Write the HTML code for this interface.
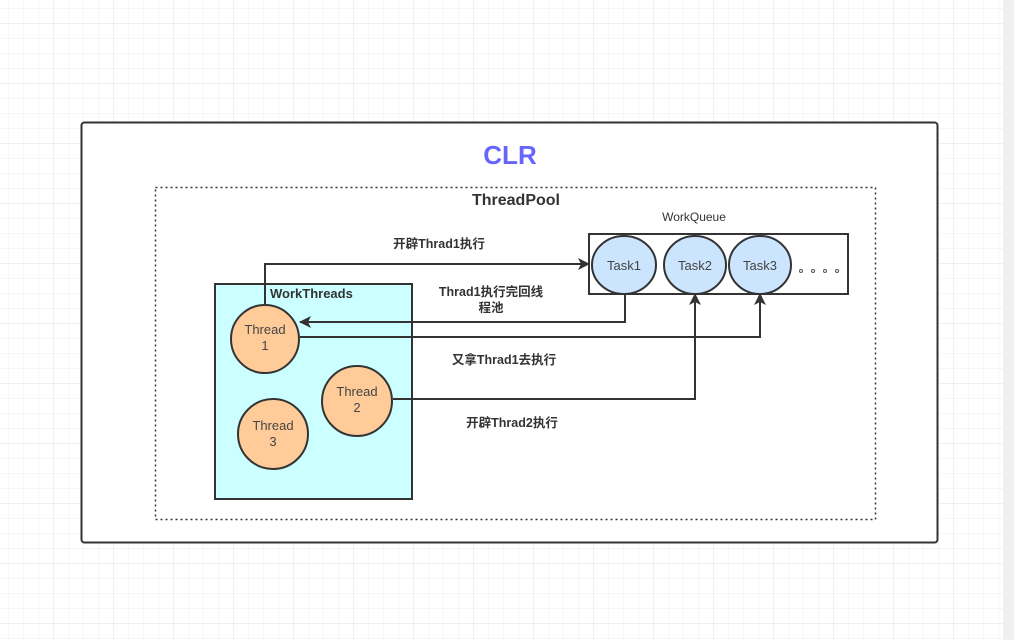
<!DOCTYPE html>
<html><head><meta charset="utf-8"><style>
html,body{margin:0;padding:0;width:1014px;height:640px;overflow:hidden;background:#fff}
</style></head><body>
<svg width="1014" height="640" xmlns="http://www.w3.org/2000/svg" font-family="Liberation Sans, Noto Sans CJK SC, sans-serif">
<defs>
<pattern id="g" x="8" y="8" width="15" height="15" patternUnits="userSpaceOnUse"><path d="M0 0H15M0 0V15" stroke="#ececec" stroke-width="1" fill="none"/></pattern>
<pattern id="G" x="53" y="23" width="60" height="60" patternUnits="userSpaceOnUse"><path d="M0 0H60M0 0V60" stroke="#e0e0e0" stroke-width="1" fill="none"/></pattern>
<marker id="a" markerWidth="12" markerHeight="12" refX="11" refY="6" orient="auto" markerUnits="userSpaceOnUse"><path d="M0 0L12 6L0 12L3 6Z" fill="#333"/></marker>
</defs>
<rect width="1003" height="640" fill="url(#g)"/>
<rect width="1003" height="640" fill="url(#G)"/>
<rect x="1003" y="0" width="11" height="640" fill="#f0f0f0"/>
<rect x="81.5" y="122.5" width="856" height="420" rx="3" fill="#fff" stroke="#333" stroke-width="2"/>
<text x="510" y="164" text-anchor="middle" font-size="26" font-weight="bold" fill="#6666ff">CLR</text>
<rect x="155.5" y="187.5" width="720" height="332" fill="none" stroke="#333" stroke-width="1.5" stroke-dasharray="2 3"/>
<text x="516" y="205" text-anchor="middle" font-size="16" font-weight="bold" fill="#333">ThreadPool</text>
<text x="694" y="221" text-anchor="middle" font-size="12" fill="#333">WorkQueue</text>
<rect x="589" y="234" width="259" height="60" fill="#fff" stroke="#333" stroke-width="2"/>
<g fill="#cce5ff" stroke="#333" stroke-width="2">
<ellipse cx="624" cy="265" rx="32" ry="29"/><ellipse cx="695" cy="265" rx="31" ry="29"/><ellipse cx="760" cy="265" rx="31" ry="29"/>
</g>
<g font-size="13" fill="#444" text-anchor="middle">
<text x="624" y="270">Task1</text><text x="695" y="270">Task2</text><text x="760" y="270">Task3</text>
</g>
<g fill="none" stroke="#555" stroke-width="1"><circle cx="801" cy="271" r="1.5"/><circle cx="813" cy="271" r="1.5"/><circle cx="825" cy="271" r="1.5"/><circle cx="837" cy="271" r="1.5"/></g>
<rect x="215" y="284" width="197" height="215" fill="#ccffff" stroke="#333" stroke-width="2"/>
<text x="270" y="298" font-size="13" font-weight="bold" fill="#333">WorkThreads</text>
<g stroke="#333" stroke-width="2" fill="none">
<path d="M265 308V264H589" marker-end="url(#a)"/>
<path d="M625 294V322H300" marker-end="url(#a)"/>
<path d="M300 337H760V294" marker-end="url(#a)"/>
<path d="M393 399H695V294" marker-end="url(#a)"/>
</g>
<g fill="#ffcc99" stroke="#333" stroke-width="2">
<circle cx="265" cy="339" r="34"/><circle cx="357" cy="401" r="35"/><circle cx="273" cy="434" r="35"/>
</g>
<g font-size="13" fill="#444" text-anchor="middle">
<text x="265" y="334">Thread</text><text x="265" y="350">1</text>
<text x="357" y="396">Thread</text><text x="357" y="412">2</text>
<text x="273" y="430">Thread</text><text x="273" y="446">3</text>
</g>
<g font-size="12.5" font-weight="bold" fill="#333" text-anchor="middle">
<text x="439" y="248">开辟Thrad1执行</text>
<text x="491" y="296">Thrad1执行完回线</text>
<text x="491" y="312">程池</text>
<text x="504" y="364">又拿Thrad1去执行</text>
<text x="512" y="427">开辟Thrad2执行</text>
</g>
</svg>
</body></html>
